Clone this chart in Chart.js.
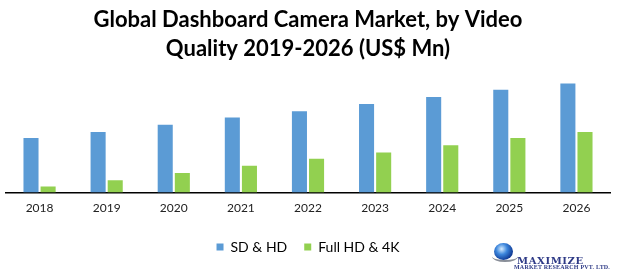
<!DOCTYPE html>
<html>
<head>
<meta charset="utf-8">
<script src="https://cdn.jsdelivr.net/npm/chart.js@4"></script>
<style>
  html, body { margin: 0; padding: 0; background: #fff; }
  .wrap { position: relative; width: 623px; height: 280px; }
  .logo { position: absolute; left: 480px; top: 235px; width: 143px; height: 45px; }
  .globe { position: absolute; left: 14px; top: 8px; width: 19px; height: 17px; border-radius: 50%;
    background: radial-gradient(circle at 40% 35%, #d6ecff 0%, #3c86dc 35%, #0d3590 75%, #061a55 100%); }
  .swoosh { position: absolute; left: 12px; top: 16px; width: 26px; height: 9px; border-radius: 50%;
    border-bottom: 2px solid #8a8f99; }
  .brand { position: absolute; left: 37px; top: 21px; font-family: "DejaVu Serif", "Liberation Serif", serif;
    font-weight: bold; color: #2e3a86; font-size: 10px; line-height: 9px; letter-spacing: 0.6px; }
  .sub { position: absolute; left: 34px; top: 29px; font-family: "Liberation Serif", serif; font-weight: bold;
    color: #2e3a86; font-size: 6px; line-height: 7px; white-space: nowrap; letter-spacing: 0.2px; }
</style>
</head>
<body>
<div class="wrap">
  <canvas id="chart" width="623" height="280"></canvas>
  <div class="logo">
    <div class="swoosh"></div>
    <div class="globe"></div>
    <div class="brand">MAXIMIZE</div>
    <div class="sub">MARKET RESEARCH PVT. LTD.</div>
  </div>
</div>
<script>
const years = ["2018", "2019", "2020", "2021", "2022", "2023", "2024", "2025", "2026"];
const sdHd = [53, 59, 66, 73, 79, 86, 93, 100, 106];
const fullHd4k = [6, 12, 19, 26, 33, 39, 46, 53, 59];
const titleLines = ["Global Dashboard Camera Market, by Video", "Quality 2019-2026 (US$ Mn)"];

const ctx = document.getElementById("chart").getContext("2d");

new Chart(ctx, {
  type: "bar",
  data: {
    labels: years,
    datasets: [
      { label: "SD & HD", data: sdHd, backgroundColor: "#5b9bd5" },
      { label: "Full HD & 4K", data: fullHd4k, backgroundColor: "#92d050" },
    ],
  },
  options: {
    responsive: false,
    animation: false,
    layout: { padding: { left: 6, right: 13, top: 0, bottom: 16 } },
    datasets: {
      bar: { barPercentage: 0.88, categoryPercentage: 0.51 },
    },
    plugins: {
      title: {
        display: true,
        text: titleLines,
        color: "#000",
        font: { family: "Lato", weight: "bold", size: 22, lineHeight: 1.3 },
        padding: { top: 6, bottom: 8 },
      },
      legend: {
        position: "bottom",
        labels: {
          boxWidth: 7,
          boxHeight: 7,
          color: "#000",
          font: { family: "Lato", size: 14 },
          padding: 17,
        },
      },
      tooltip: { enabled: false },
    },
    scales: {
      x: {
        grid: { display: false },
        border: { display: true, color: "#000", width: 1.5 },
        ticks: { color: "#222", font: { family: "Lato", size: 12 }, padding: 0 },
        // extra room under the year labels so the legend sits lower
        afterFit: (scale) => { scale.height += 8; },
      },
      y: {
        display: false,
        min: 0,
        max: 118,
      },
    },
  },
});
</script>
</body>
</html>
